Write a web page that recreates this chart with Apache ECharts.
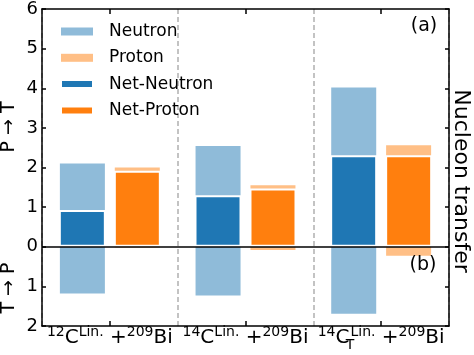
<!DOCTYPE html>
<html><head><meta charset="utf-8">
<script src="https://cdn.jsdelivr.net/npm/echarts@6/dist/echarts.min.js"></script>
<style>html,body{margin:0;padding:0;background:#fff}#c{width:474px;height:355px}</style>
</head><body><div id="c"></div>
<script>
const categories = ['12C', '14C', '14CT'];
const neutronUp = [2.10, 2.54, 4.02];
const neutronDown = [-1.18, -1.23, -1.69];
const protonUp = [2.00, 1.55, 2.56];
const protonDown = [-0.02, -0.08, -0.23];
const netNeutron = [0.93, 1.30, 2.31];
const netProton = [1.92, 1.47, 2.31];
const yTicks = [-2, -1, 0, 1, 2, 3, 4, 5, 6];

const FONT = '"DejaVu Sans"';
const chart = echarts.init(document.getElementById('c'), null, {renderer: 'canvas'});
const labelMap = {
  '12C': '{sup|12}{n|C}{sup|Lin.}{n| +}{sup|209}{n|Bi}',
  '14C': '{sup|14}{n|C}{sup|Lin.}{n| +}{sup|209}{n|Bi}',
  '14CT': '{sup|14}{n|C}{sub|T}{sup|Lin.}{n| +}{sup|209}{n|Bi}'
};
const rich = {
  n: {fontSize: 20, fontFamily: FONT, color: '#000', lineHeight: 22, verticalAlign: 'bottom', padding: [0, 0, 4, 0]},
  sup: {fontSize: 14, fontFamily: FONT, color: '#000', lineHeight: 14, verticalAlign: 'bottom', padding: [0, 0, 13, 0]},
  sub: {fontSize: 14, fontFamily: FONT, color: '#000', lineHeight: 8, verticalAlign: 'bottom', padding: [0, 0, 0, 0], width: 1}
};
const C_LB = '#8fbbd9', C_LO = '#ffbf86', C_B = '#1f77b4', C_O = '#ff7f0e';
const axisLineStyle = {color: '#000', width: 1.5};

chart.setOption({
  animation: false,
  backgroundColor: '#fff',
  grid: {left: 42, right: 25, top: 7, bottom: 29},
  legend: {
    orient: 'vertical', left: 60, top: 23, padding: 0, itemGap: 9.3,
    itemWidth: 32, itemHeight: 8, icon: 'rect',
    data: ['Neutron', 'Proton', 'Net-Neutron', 'Net-Proton'],
    textStyle: {fontSize: 17, fontFamily: FONT, color: '#000', lineHeight: 17, padding: [0, 0, 0, 11]}
  },
  xAxis: [
    {type: 'category', data: categories, position: 'bottom', z: 3,
     axisLine: {show: true, onZero: false, lineStyle: axisLineStyle},
     axisTick: {show: true, inside: true, alignWithLabel: true, interval: 0, length: 5, lineStyle: {color: '#000', width: 1.5}},
     axisLabel: {margin: 4, interval: 0, hideOverlap: false, formatter: v => labelMap[v], rich: rich},
     splitLine: {show: true, interval: 0, lineStyle: {color: '#b0b0b0', width: 1.5, type: [5, 3]}}},
    {type: 'category', data: categories, position: 'top', z: 3,
     axisLine: {show: true, onZero: false, lineStyle: axisLineStyle},
     axisTick: {show: true, inside: true, alignWithLabel: true, interval: 0, length: 5, lineStyle: {color: '#000', width: 1.5}},
     axisLabel: {show: false}, splitLine: {show: false}},
    {type: 'category', data: categories, position: 'bottom', show: false}
  ],
  yAxis: [
    {type: 'value', min: -2, max: 6, interval: 1, position: 'left', z: 3,
     axisLine: {show: true, onZero: false, lineStyle: axisLineStyle},
     axisTick: {show: true, inside: true, length: 4, lineStyle: {color: '#000', width: 1.5}},
     axisLabel: {margin: 4, fontSize: 18, fontFamily: FONT, color: '#000', formatter: v => String(Math.abs(v))},
     splitLine: {show: false}},
    {type: 'value', min: -2, max: 6, interval: 1, position: 'right', z: 3,
     axisLine: {show: true, onZero: false, lineStyle: axisLineStyle},
     axisTick: {show: true, inside: true, length: 4, lineStyle: {color: '#000', width: 1.5}},
     axisLabel: {show: false}, splitLine: {show: false}}
  ],
  series: [
    {name: 'Neutron', type: 'bar', xAxisIndex: 0, stack: 'n', data: neutronUp, barWidth: 45, barGap: '22%', itemStyle: {color: C_LB}},
    {name: 'Proton', type: 'bar', xAxisIndex: 0, stack: 'p', data: protonUp, barWidth: 45, barGap: '22%', itemStyle: {color: C_LO}},
    {name: 'Neutron', type: 'bar', xAxisIndex: 0, stack: 'n', data: neutronDown, barWidth: 45, barGap: '22%', itemStyle: {color: C_LB}},
    {name: 'Proton', type: 'bar', xAxisIndex: 0, stack: 'p', data: protonDown, barWidth: 45, barGap: '22%', itemStyle: {color: C_LO}},
    {name: 'Net-Neutron', type: 'bar', xAxisIndex: 2, data: netNeutron, barWidth: 47, barGap: '17%', z: 4,
     itemStyle: {color: C_B, borderColor: '#fff', borderWidth: 2}},
    {name: 'Net-Proton', type: 'bar', xAxisIndex: 2, data: netProton, barWidth: 47, barGap: '17%', z: 4,
     itemStyle: {color: C_O, borderColor: '#fff', borderWidth: 2},
     markLine: {silent: true, symbol: 'none', label: {show: false}, z: 6,
       lineStyle: {color: '#000', width: 1.5, type: 'solid'}, data: [{yAxis: 0}]}}
  ],
  graphic: [
    {type: 'text', x: 9, y: 127, rotation: Math.PI / 2, z: 10,
     style: {text: 'P → T', font: '19px "DejaVu Sans"', fill: '#000', align: 'center', verticalAlign: 'middle'}},
    {type: 'text', x: 9, y: 288, rotation: Math.PI / 2, z: 10,
     style: {text: 'T → P', font: '19px "DejaVu Sans"', fill: '#000', align: 'center', verticalAlign: 'middle'}},
    {type: 'text', x: 461, y: 181, rotation: -Math.PI / 2, z: 10,
     style: {text: 'Nucleon transfer', font: '22px "DejaVu Sans"', fill: '#000', align: 'center', verticalAlign: 'middle'}},
    {type: 'text', x: 424, y: 26, z: 10,
     style: {text: '(a)', font: '19px "DejaVu Sans"', fill: '#000', align: 'center', verticalAlign: 'middle'}},
    {type: 'text', x: 423, y: 265, z: 10,
     style: {text: '(b)', font: '19px "DejaVu Sans"', fill: '#000', align: 'center', verticalAlign: 'middle'}}
  ]
});
</script></body></html>
